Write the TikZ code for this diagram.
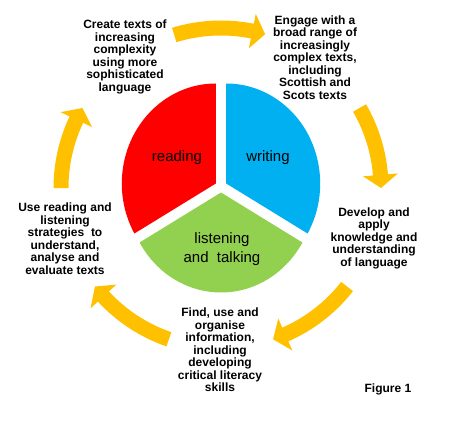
\documentclass[tikz,border=0pt]{standalone}
\usepackage{fontspec}
\setmainfont{Liberation Sans}
\usetikzlibrary{calc}

\definecolor{arrowyellow}{HTML}{FFC000}
\definecolor{readred}{HTML}{FF0000}
\definecolor{writeblue}{HTML}{00B0F0}
\definecolor{talkgreen}{HTML}{92D050}

% tail angle / tip angle of each yellow arrow
\def\arrowspans{107/74, 30/0, -38/-71, -109/-142, 180/150}
\tikzstyle{cycle arrow}=[fill=arrowyellow]
\tikzstyle{stage}=[align=center, inner sep=0pt, font=\fontsize{12}{12.5}\selectfont\bfseries]
\tikzstyle{mode}=[align=center, inner sep=0pt, font=\fontsize{15}{19}\selectfont]

\begin{document}
\begin{tikzpicture}[x=1pt,y=1pt]
  \useasboundingbox (0,0) rectangle (458,424);
  \coordinate (c) at (221,236);
  \coordinate (pie) at (221,237.5);

  % The three modes, pulled a little apart
  \foreach \dir/\from/\to/\col in {150/90/210/readred, 30/-30/90/writeblue, 270/210/330/talkgreen} {
    \fill[\col] ($(pie)+(\dir:6)$) -- +({94*cos(\from)},{100*sin(\from)})
      arc[start angle=\from, end angle=\to, x radius=94, y radius=100] -- cycle;
  }

  \foreach \pos/\name/\text in {{(177,266)/reading/reading}, {(268,266)/writing/writing},
                                {(222,175)/talking/{listening\\and~ talking}}} {
    \node[mode] (\name) at \pos {\text};
  }

  % The arrows round the wheel
  \foreach \tail/\tip in \arrowspans {
    \pgfmathsetmacro{\base}{\tip+4.7}
    \fill[cycle arrow] ($(c)+(\tail:167.5)$) arc[start angle=\tail, end angle=\base, radius=167.5]
      -- ($(c)+(\base:177.5)$) -- ($(c)+(\tip:160)$) -- ($(c)+(\base:142.5)$) -- ($(c)+(\base:152.5)$)
      arc[start angle=\base, end angle=\tail, radius=152.5] -- cycle;
  }

  % The stages between the arrows
  \foreach \pos/\name/\text in {
      {(125,367)/create/{Create texts of\\increasing\\complexity\\using more\\sophisticated\\language}},
      {(315,366.5)/engage/{Engage with a\\broad range of\\increasingly\\complex texts,\\including\\Scottish and\\Scots texts}},
      {(374,186)/develop/{Develop and\\apply\\knowledge and\\understanding\\of language}},
      {(220,74)/find/{Find, use and\\organise\\information,\\including\\developing\\critical literacy\\skills}},
      {(65,185.5)/use/{Use reading and\\listening\\strategies~ to\\understand,\\analyse and\\evaluate texts}}} {
    \node[stage] (\name) at \pos {\text};
  }

  \node[stage] (figure) at (388,35) {Figure 1};
\end{tikzpicture}
\end{document}
